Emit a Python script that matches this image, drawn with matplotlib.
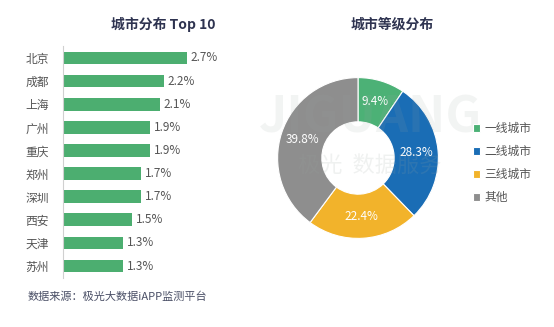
import numpy as np
import matplotlib.pyplot as plt

plt.rcParams['font.family'] = ['Noto Sans CJK SC', 'DejaVu Sans']

# bar chart data
cities = ['北京', '成都', '上海', '广州', '重庆', '郑州', '深圳', '西安', '天津', '苏州']
shares = [2.7, 2.2, 2.1, 1.9, 1.9, 1.7, 1.7, 1.5, 1.3, 1.3]

# donut data
tiers = ['一线城市', '二线城市', '三线城市', '其他']
tier_shares = [9.4, 28.3, 22.4, 39.8]
tier_colors = ['#4cb176', '#1a6db5', '#f2b32b', '#8e8e8e']

bar_color = '#4cae70'
title_color = '#2e3350'

fig = plt.figure(figsize=(5.54, 3.27), dpi=100)
fig.patch.set_facecolor('white')

# left: top 10 cities
ax = fig.add_axes([0.1137, 0.151, 0.249, 0.707])
y = np.arange(len(cities))
ax.barh(y, shares, height=0.55, color=bar_color)
ax.set_ylim(len(cities) - 0.5, -0.5)
ax.set_xlim(0, 3.0)
for yi, v in zip(y, shares):
    ax.text(v + 0.08, yi, f'{v}%', va='center', ha='left', fontsize=8.5, color='#555555')
ax.set_yticks(y)
ax.set_yticklabels(cities, fontsize=8.5, color='#555555')
ax.tick_params(axis='y', length=0, pad=10)
ax.set_xticks([])
for s in ['top', 'right', 'bottom']:
    ax.spines[s].set_visible(False)
ax.spines['left'].set_color('#d0d0d0')
ax.spines['left'].set_linewidth(0.8)

fig.text(163 / 554, 1 - 24 / 327, '城市分布 Top 10', ha='center', va='center',
         fontsize=10, fontweight='bold', color=title_color)
fig.text(28 / 554, 1 - 297 / 327, '数据来源：极光大数据iAPP监测平台', ha='left', va='center',
         fontsize=8, style='italic', color='#4a4f66')

# right: tier donut
ax2 = fig.add_axes([276 / 554, 1 - 240 / 327, 164 / 554, 164 / 327])
wedges, texts, autotexts = ax2.pie(
    tier_shares, colors=tier_colors, startangle=90, counterclock=False,
    autopct='%.1f%%', pctdistance=0.73,
    wedgeprops=dict(width=0.55, edgecolor='white', linewidth=0.8),
    textprops=dict(color='white', fontsize=8.5))
ax2.set_xlim(-1.02, 1.02)
ax2.set_ylim(-1.02, 1.02)
ax2.set_aspect('equal')

fig.text(392 / 554, 1 - 25 / 327, '城市等级分布', ha='center', va='center',
         fontsize=10, fontweight='bold', color=title_color)

leg = fig.legend(wedges, tiers, loc='center left', bbox_to_anchor=(462 / 554, 1 - 163 / 327),
                 frameon=False, fontsize=8.5, handlelength=0.6, handleheight=0.6,
                 handletextpad=0.4, labelspacing=0.85, labelcolor='#555555')

# faint watermark
fig.text(370 / 554, 1 - 118 / 327, 'JIGUANG', ha='center', va='center', fontsize=36,
         fontweight='bold', color='#9aa5a0', alpha=0.12)
fig.text(370 / 554, 1 - 165 / 327, '极光  数据服务', ha='center', va='center', fontsize=16,
         color='#9aa5a0', alpha=0.15)

fig.savefig('out.png', dpi=100)
